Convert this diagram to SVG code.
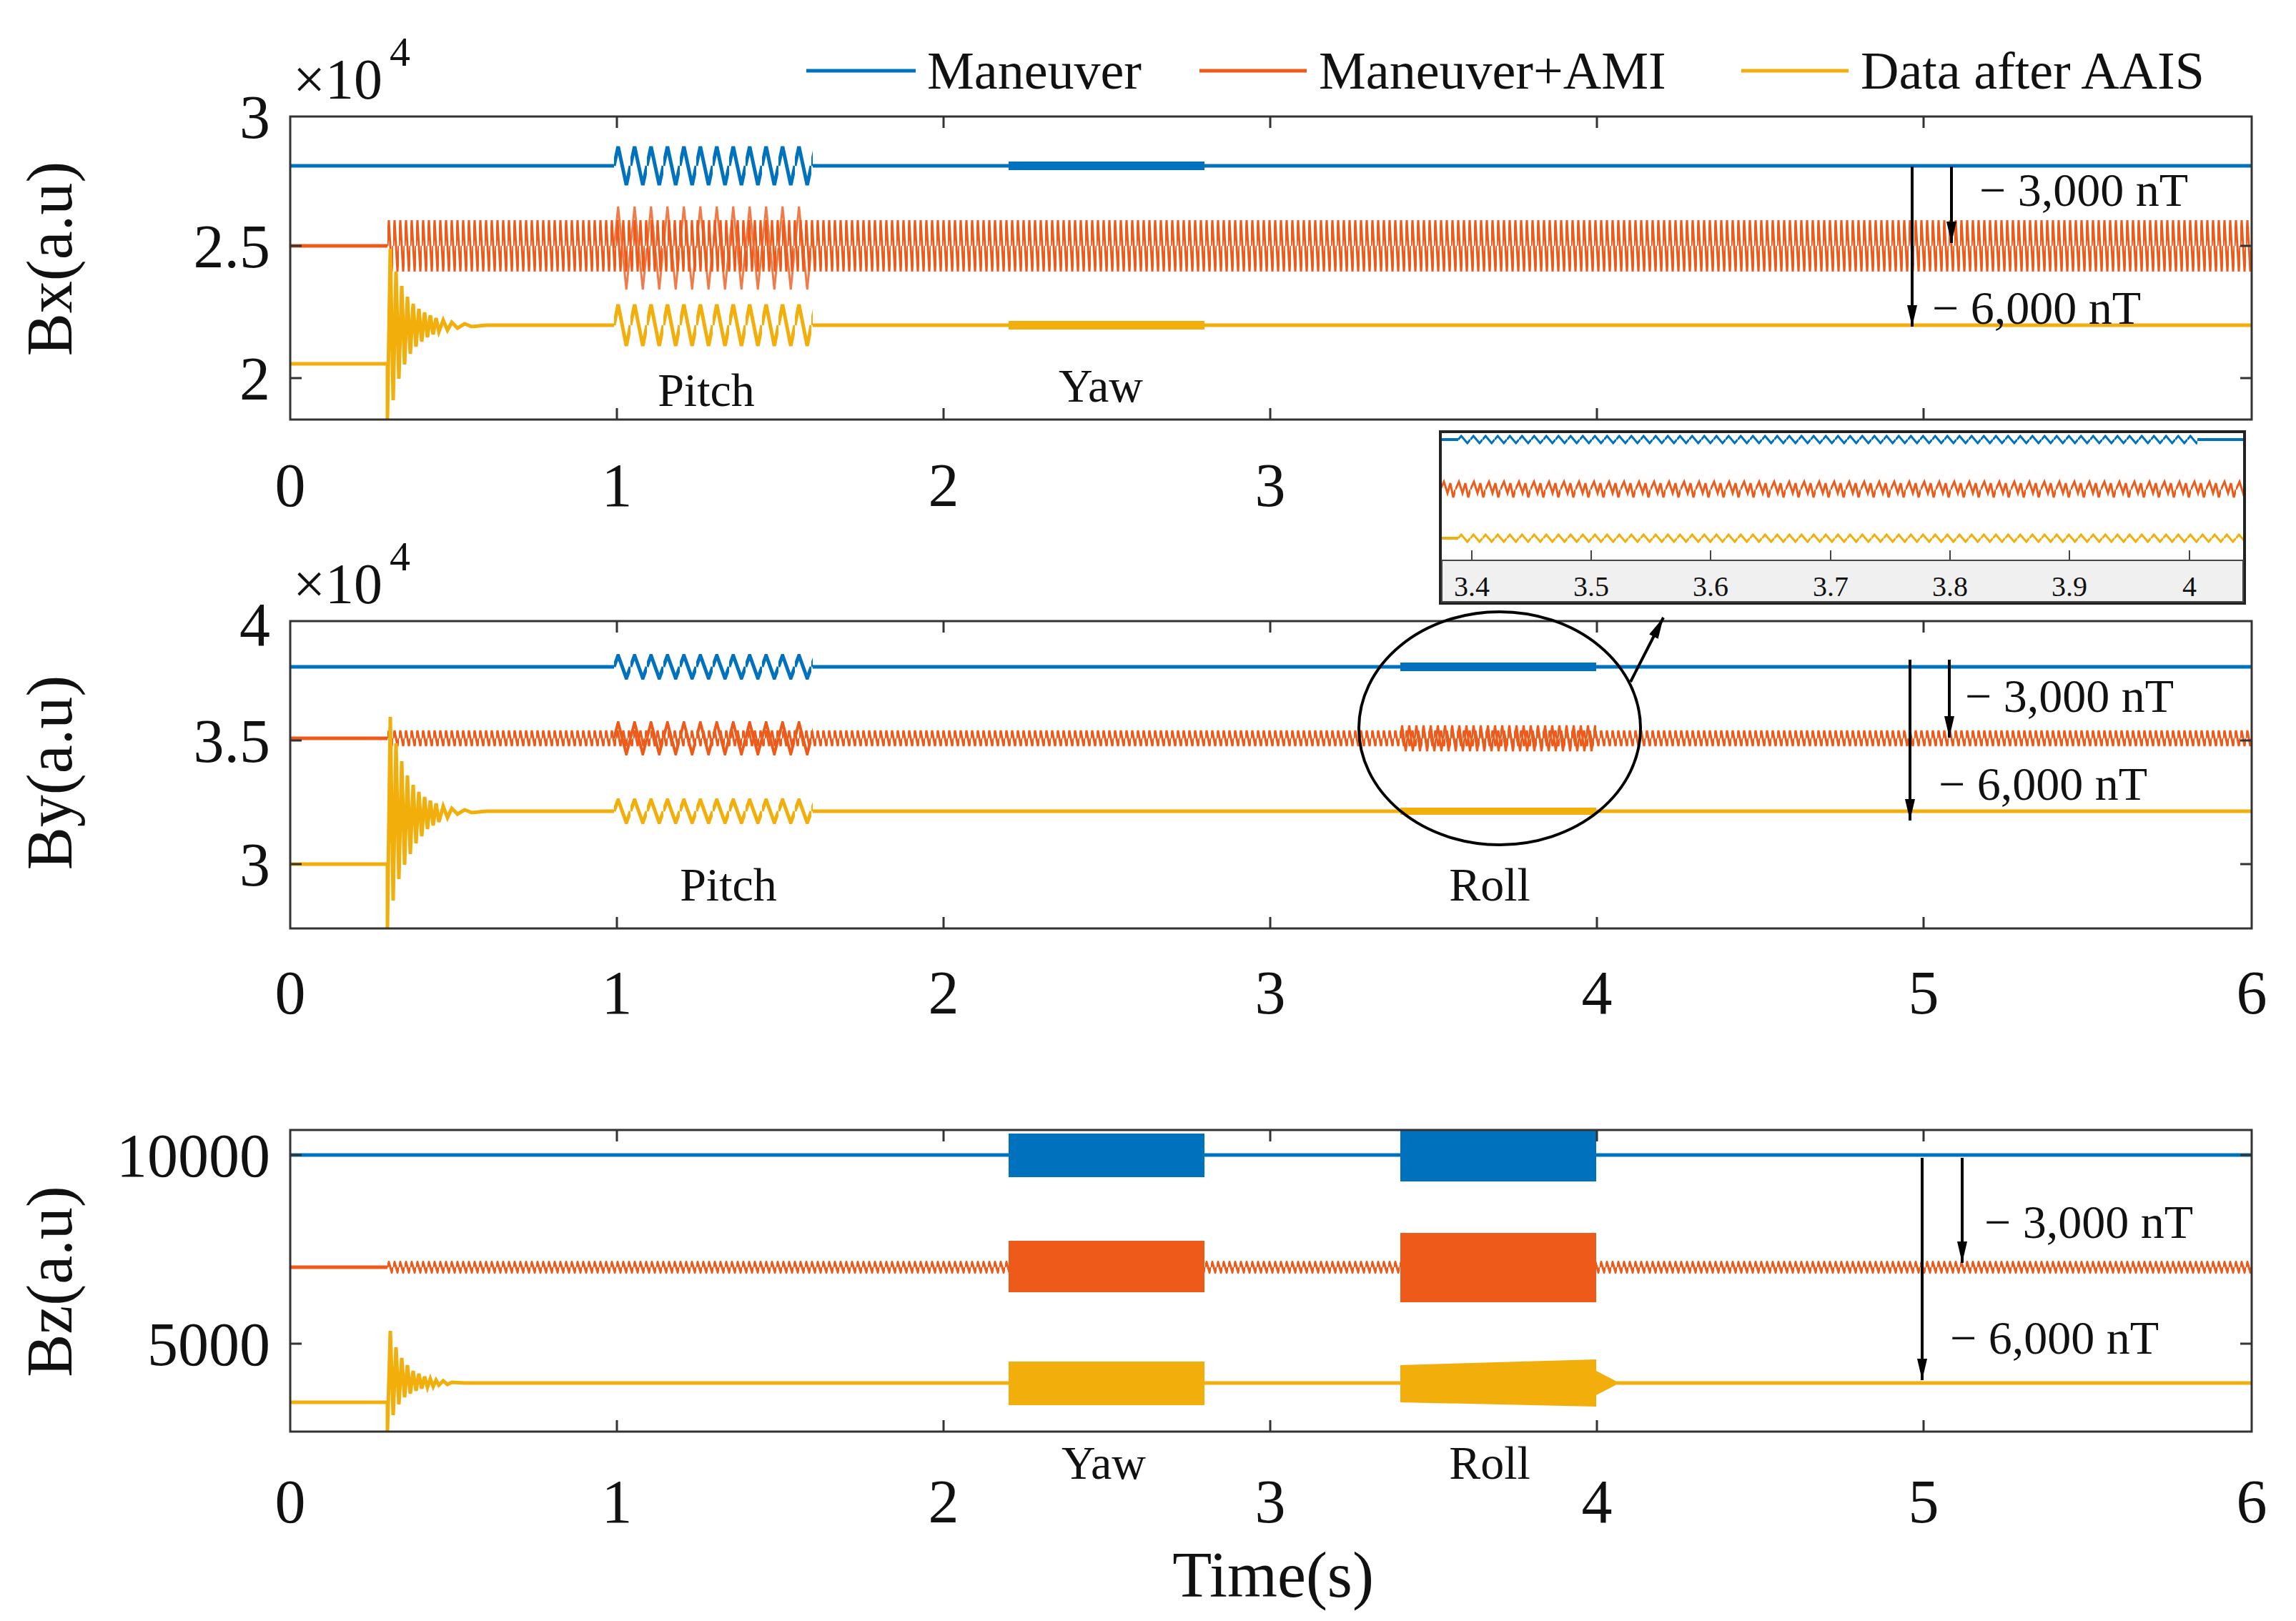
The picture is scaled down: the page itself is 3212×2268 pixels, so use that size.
<svg xmlns="http://www.w3.org/2000/svg" width="3212" height="2268" viewBox="0 0 3212 2268" font-family="'Liberation Serif', 'Times New Roman', serif">
<style>
text{font-family:'Liberation Serif','Times New Roman',serif;fill:#111}
.tk{font-size:86px;text-anchor:middle}
.yt{font-size:86px;text-anchor:end}
.yl{font-size:90px;text-anchor:middle}
.an{font-size:66px}
.lg{font-size:74px}
.ax{fill:none;stroke:#333;stroke-width:3}
.b{stroke:#0072BD;stroke-width:5;fill:none}
.o{stroke:#EE5A1A;stroke-width:5;fill:none}
.y{stroke:#F2AE0A;stroke-width:5;fill:none}
.ar{stroke:#000;stroke-width:4;fill:none;marker-end:url(#ah)}
</style>
<defs>
<marker id="ah" viewBox="0 0 30 14" refX="30" refY="7" markerWidth="30" markerHeight="14" orient="auto" markerUnits="userSpaceOnUse"><path d="M0,0 L30,7 L0,14 z" fill="#000"/></marker>
<pattern id="od1" patternUnits="userSpaceOnUse" x="542" y="304" width="8" height="80"><polyline points="0,40 2,4 6,76 8,40" fill="none" stroke="#EE5A1A" stroke-width="3"/></pattern>
<pattern id="od2" patternUnits="userSpaceOnUse" x="542" y="1020" width="8" height="26"><polyline points="0,13 2,2 6,24 8,13" fill="none" stroke="#EE5A1A" stroke-width="3"/></pattern>
<pattern id="od3" patternUnits="userSpaceOnUse" x="542" y="1764" width="8" height="18"><polyline points="0,9 2,2 6,16 8,9" fill="none" stroke="#EE5A1A" stroke-width="3"/></pattern>
<pattern id="zb1" patternUnits="userSpaceOnUse" x="859" y="202" width="23" height="60"><polyline points="0,30 5.75,3 17.25,57 23,30" fill="none" stroke="#0072BD" stroke-width="5"/></pattern>
<pattern id="zy1" patternUnits="userSpaceOnUse" x="859" y="423" width="23" height="64"><polyline points="0,32 5.75,3 17.25,61 23,32" fill="none" stroke="#F2AE0A" stroke-width="5"/></pattern>
<pattern id="zo1" patternUnits="userSpaceOnUse" x="859" y="286" width="23" height="122"><polyline points="0,61 5.75,3 17.25,119 23,61" fill="none" stroke="#EE5A1A" stroke-width="3"/></pattern>
<pattern id="zb2" patternUnits="userSpaceOnUse" x="859" y="915" width="23" height="36"><polyline points="0,18 5.75,2 17.25,34 23,18" fill="none" stroke="#0072BD" stroke-width="5"/></pattern>
<pattern id="zy2" patternUnits="userSpaceOnUse" x="859" y="1117" width="23" height="36"><polyline points="0,18 5.75,2 17.25,34 23,18" fill="none" stroke="#F2AE0A" stroke-width="5"/></pattern>
<pattern id="zo2" patternUnits="userSpaceOnUse" x="859" y="1009" width="23" height="48"><polyline points="0,24 5.75,2 17.25,46 23,24" fill="none" stroke="#EE5A1A" stroke-width="4"/></pattern>
<pattern id="zo2r" patternUnits="userSpaceOnUse" x="1959" y="1013" width="10" height="40"><polyline points="0,20 2.5,2 7.5,38 10,20" fill="none" stroke="#EE5A1A" stroke-width="3"/></pattern>
<pattern id="zib" patternUnits="userSpaceOnUse" x="2040" y="608" width="17" height="14"><polyline points="0,7 4.25,2 12.75,12 17,7" fill="none" stroke="#0072BD" stroke-width="3"/></pattern>
<pattern id="ziy" patternUnits="userSpaceOnUse" x="2040" y="746" width="17" height="14"><polyline points="0,7 4.25,2 12.75,12 17,7" fill="none" stroke="#F2AE0A" stroke-width="3"/></pattern>
<pattern id="zio" patternUnits="userSpaceOnUse" x="2015" y="670" width="21" height="30"><polyline points="0,15 5,4 10,20 14,6 18,26 21,15" fill="none" stroke="#EE5A1A" stroke-width="3"/></pattern>
</defs>

<g id="legend">
<line x1="1128" y1="99" x2="1281" y2="99" class="b" stroke-width="7"/><text class="lg" x="1297" y="124">Maneuver</text>
<line x1="1678" y1="99" x2="1828" y2="99" class="o" stroke-width="7"/><text class="lg" x="1845" y="124">Maneuver+AMI</text>
<line x1="2436" y1="99" x2="2586" y2="99" class="y" stroke-width="7"/><text class="lg" x="2603" y="124">Data after AAIS</text>
</g>

<g id="plot1">
<text x="410" y="138" font-size="80">×10</text><text x="545" y="92" font-size="58">4</text>
<line x1="405" y1="232" x2="859" y2="232" class="b"/><line x1="1137" y1="232" x2="3150" y2="232" class="b"/>
<rect x="859" y="202" width="278" height="60" fill="url(#zb1)"/>
<rect x="1411" y="226" width="274" height="12" fill="#0072BD"/>
<line x1="405" y1="344" x2="542" y2="344" class="o"/>
<rect x="542" y="304" width="2608" height="80" fill="url(#od1)"/>
<rect x="859" y="286" width="278" height="122" fill="url(#zo1)" opacity="0.8"/>
<polyline class="y" points="405,509 542,509 542,587 546,348 550,560 554,380 558,530 562,400 566,510 570,415 574,495 578,425 582,485 586,432 590,478 594,437 598,472 602,441 606,468 610,445 614,464 620,448 626,462 632,451 640,459 650,453 660,457 680,455 859,455"/>
<rect x="859" y="423" width="278" height="64" fill="url(#zy1)"/>
<line x1="1137" y1="455" x2="3150" y2="455" class="y"/>
<rect x="1411" y="449" width="274" height="12" fill="#F2AE0A"/>
<rect class="ax" x="406" y="163" width="2744" height="424"/>
<path class="ax" d="M406,344h16M406,529h16M3150,344h-16M3150,529h-16M863,163v16M1320,163v16M1777,163v16M2234,163v16M2691,163v16M863,587v-16M1320,587v-16M1777,587v-16M2234,587v-16M2691,587v-16"/>
<text class="yt" x="378" y="193">3</text><text class="yt" x="378" y="374">2.5</text><text class="yt" x="378" y="559">2</text>
<text class="yl" transform="translate(100,362) rotate(-90)">Bx(a.u)</text>
<text class="tk" x="406" y="708">0</text><text class="tk" x="863" y="708">1</text><text class="tk" x="1320" y="708">2</text><text class="tk" x="1777" y="708">3</text>
<text class="an" x="988" y="568" text-anchor="middle">Pitch</text><text class="an" x="1540" y="562" text-anchor="middle">Yaw</text>
<line class="ar" x1="2675" y1="233" x2="2675" y2="457"/><line class="ar" x1="2730" y1="233" x2="2730" y2="340"/>
<text class="an" x="2769" y="288">− 3,000 nT</text><text class="an" x="2703" y="453">− 6,000 nT</text>
</g>

<g id="inset">
<rect x="2015" y="604" width="1125" height="240" fill="#fff" stroke="#222" stroke-width="4"/>
<rect x="2017" y="784" width="1121" height="58" fill="#F0F0F0" stroke="#444" stroke-width="2"/>
<line x1="2017" y1="615" x2="2040" y2="615" stroke="#0072BD" stroke-width="4"/>
<rect x="2040" y="608" width="1034" height="14" fill="url(#zib)"/>
<line x1="3074" y1="615" x2="3138" y2="615" stroke="#0072BD" stroke-width="4"/>
<rect x="2017" y="670" width="1121" height="30" fill="url(#zio)"/>
<line x1="2017" y1="753" x2="2040" y2="753" stroke="#F2AE0A" stroke-width="4"/>
<rect x="2040" y="746" width="1098" height="14" fill="url(#ziy)"/>
<path d="M2059,784v-14M2226,784v-14M2393,784v-14M2561,784v-14M2728,784v-14M2895,784v-14M3063,784v-14" stroke="#444" stroke-width="2"/>
<g font-size="40" text-anchor="middle"><text x="2059" y="834">3.4</text><text x="2226" y="834">3.5</text><text x="2393" y="834">3.6</text><text x="2561" y="834">3.7</text><text x="2728" y="834">3.8</text><text x="2895" y="834">3.9</text><text x="3063" y="834">4</text></g>
</g>

<g id="plot2">
<text x="410" y="844" font-size="80">×10</text><text x="545" y="798" font-size="58">4</text>
<line x1="405" y1="933" x2="859" y2="933" class="b"/><line x1="1137" y1="933" x2="3150" y2="933" class="b"/>
<rect x="859" y="915" width="278" height="36" fill="url(#zb2)"/>
<rect x="1959" y="927" width="274" height="12" fill="#0072BD"/>
<line x1="405" y1="1033" x2="542" y2="1033" class="o"/>
<rect x="542" y="1020" width="2608" height="26" fill="url(#od2)"/>
<rect x="859" y="1009" width="278" height="48" fill="url(#zo2)"/>
<rect x="1959" y="1013" width="274" height="40" fill="url(#zo2r)"/>
<polyline class="y" points="405,1209 542,1209 542,1299 546,1003 550,1260 554,1040 558,1230 562,1065 566,1210 570,1085 574,1195 578,1098 582,1180 586,1108 590,1170 594,1115 598,1160 602,1120 606,1155 610,1124 614,1150 620,1128 626,1144 632,1131 640,1139 650,1133 660,1137 680,1135 859,1135"/>
<rect x="859" y="1117" width="278" height="36" fill="url(#zy2)"/>
<line x1="1137" y1="1135" x2="3150" y2="1135" class="y"/>
<rect x="1959" y="1130" width="274" height="10" fill="#F2AE0A"/>
<rect class="ax" x="406" y="869" width="2744" height="430"/>
<path class="ax" d="M406,1036h16M406,1209h16M3150,1036h-16M3150,1209h-16M863,869v16M1320,869v16M1777,869v16M2234,869v16M2691,869v16M863,1299v-16M1320,1299v-16M1777,1299v-16M2234,1299v-16M2691,1299v-16"/>
<text class="yt" x="378" y="903">4</text><text class="yt" x="378" y="1066">3.5</text><text class="yt" x="378" y="1239">3</text>
<text class="yl" transform="translate(100,1081) rotate(-90)">By(a.u)</text>
<text class="tk" x="406" y="1418">0</text><text class="tk" x="863" y="1418">1</text><text class="tk" x="1320" y="1418">2</text><text class="tk" x="1777" y="1418">3</text><text class="tk" x="2234" y="1418">4</text><text class="tk" x="2691" y="1418">5</text><text class="tk" x="3150" y="1418">6</text>
<text class="an" x="1019" y="1260" text-anchor="middle">Pitch</text><text class="an" x="2084" y="1260" text-anchor="middle">Roll</text>
<ellipse cx="2098" cy="1019" rx="197" ry="163" fill="none" stroke="#000" stroke-width="4"/>
<line class="ar" x1="2281" y1="954" x2="2327" y2="864"/>
<line class="ar" x1="2672" y1="923" x2="2672" y2="1148"/><line class="ar" x1="2727" y1="923" x2="2727" y2="1032"/>
<text class="an" x="2749" y="996">− 3,000 nT</text><text class="an" x="2712" y="1119">− 6,000 nT</text>
</g>

<g id="plot3">
<line x1="405" y1="1616" x2="3150" y2="1616" class="b"/>
<rect x="1411" y="1586" width="274" height="61" fill="#0072BD"/>
<rect x="1959" y="1581" width="274" height="72" fill="#0072BD"/>
<line x1="405" y1="1773" x2="542" y2="1773" class="o"/>
<rect x="542" y="1764" width="2608" height="18" fill="url(#od3)"/>
<rect x="1411" y="1736" width="274" height="72" fill="#EE5A1A"/>
<rect x="1959" y="1725" width="274" height="97" fill="#EE5A1A"/>
<polyline class="y" points="405,1962 542,1962 542,2003 546,1862 550,1980 554,1885 558,1965 562,1900 566,1955 570,1910 574,1950 578,1918 582,1946 586,1922 590,1943 594,1926 598,1941 602,1929 606,1940 610,1931 614,1938 620,1932 626,1937 632,1934 650,1935 3150,1935"/>
<rect x="1411" y="1905" width="274" height="61" fill="#F2AE0A"/>
<polygon points="1959,1910 2233,1902 2233,1968 1959,1962" fill="#F2AE0A"/>
<polygon points="2233,1918 2260,1932 2260,1938 2233,1952" fill="#F2AE0A"/>
<rect class="ax" x="406" y="1581" width="2744" height="422"/>
<path class="ax" d="M406,1616h16M406,1880h16M3150,1616h-16M3150,1880h-16M863,1581v16M1320,1581v16M1777,1581v16M2234,1581v16M2691,1581v16M863,2003v-16M1320,2003v-16M1777,2003v-16M2234,2003v-16M2691,2003v-16"/>
<text class="yt" x="378" y="1646">10000</text><text class="yt" x="378" y="1910">5000</text>
<text class="yl" transform="translate(100,1793) rotate(-90)">Bz(a.u)</text>
<text class="tk" x="406" y="2130">0</text><text class="tk" x="863" y="2130">1</text><text class="tk" x="1320" y="2130">2</text><text class="tk" x="1777" y="2130">3</text><text class="tk" x="2234" y="2130">4</text><text class="tk" x="2691" y="2130">5</text><text class="tk" x="3150" y="2130">6</text>
<text class="an" x="1544" y="2069" text-anchor="middle">Yaw</text><text class="an" x="2084" y="2069" text-anchor="middle">Roll</text>
<line class="ar" x1="2689" y1="1620" x2="2689" y2="1931"/><line class="ar" x1="2745" y1="1620" x2="2745" y2="1767"/>
<text class="an" x="2776" y="1732">− 3,000 nT</text><text class="an" x="2728" y="1894">− 6,000 nT</text>
<text class="yl" x="1781" y="2234">Time(s)</text>
</g>
</svg>
